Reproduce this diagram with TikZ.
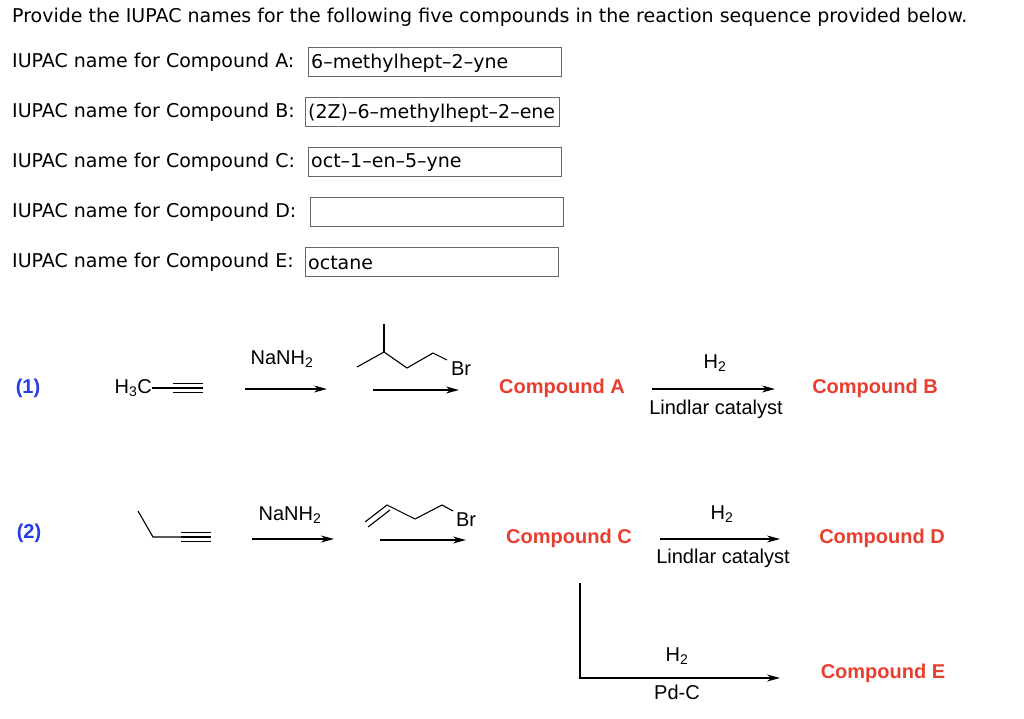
\documentclass[tikz,border=0pt]{standalone}
\usepackage{fontspec}
\setmainfont{DejaVu Sans}
\newfontfamily\hv{Liberation Sans}
\usetikzlibrary{arrows.meta}
\definecolor{cred}{RGB}{232,62,48}
\definecolor{cblue}{RGB}{40,60,230}
\begin{document}
\begin{tikzpicture}[x=1pt,y=-1pt,
  q/.style={anchor=west,inner sep=0pt,font=\fontsize{19}{22}\selectfont},
  ansbox/.style={draw=black!60,line width=1pt},
  ans/.style={anchor=west,inner sep=0pt,font=\fontsize{19}{22}\selectfont},
  lab/.style={inner sep=0pt,font=\hv\fontsize{20}{24}\selectfont},
  cmp/.style={inner sep=0pt,text=cred,font=\hv\bfseries\fontsize{20}{24}\selectfont},
  num/.style={inner sep=0pt,text=cblue,font=\hv\bfseries\fontsize{20}{24}\selectfont},
  rx/.style={-{Stealth[length=13pt,width=7pt]},line width=1.2pt},
  bond/.style={line width=1.1pt}]
\useasboundingbox[fill=white] (0,0) rectangle (1024,719);
\node[q] (hd) at (12,17) {Provide the IUPAC names for the following five compounds in the reaction sequence provided below.};
\foreach \L/\y/\bx/\ex/\t in {A/62/308/561/6–methylhept–2–yne,B/112/305/559/(2Z)–6–methylhept–2–ene,C/162/308/561/oct–1–en–5–yne,D/212/310/563/{},E/262/305/558/octane}{
  \node[q] (q\L) at (12,\y) {IUPAC name for Compound \L:};
  \draw[ansbox] (\bx,\y-14.5) rectangle (\ex,\y+14.5);
  \node[ans] (a\L) at (\bx+3,\y+1) {\t};
}
% reaction 1
\node[num] (n1) at (28,388) {(1)};
\node[lab,anchor=east] (h3c) at (152,388) {H\textsubscript{3}C};
\draw[bond] (h3c.east) -- (173,388);
\foreach \dy in {-4.5,0,4.5} \draw[bond] (173,388+\dy) -- (203,388+\dy);
\node[lab] (na1) at (282,359) {NaNH\textsubscript{2}};
\coordinate (r1a) at (245,389); \coordinate (r1b) at (327,389);
\draw[rx] (r1a) -- (r1b);
\draw[bond] (357,367) -- (384,352) -- (407,368) -- (433,353) -- (447,360);
\draw[bond] (384,352) -- (384,324);
\node[lab] (br1) at (461,369) {Br};
\coordinate (r2a) at (373,390); \coordinate (r2b) at (459,390);
\draw[rx] (r2a) -- (r2b);
\node[cmp] (cA) at (562,388) {Compound A};
\node[cmp] (cB) at (875,388) {Compound B};
\draw[rx] (652,389) -- (775,389);
\node[lab] (h21) at (715,363) {H\textsubscript{2}};
\node[lab] (lin1) at (716,409) {Lindlar catalyst};
% reaction 2
\node[num] (n2) at (29,533) {(2)};
\draw[bond] (138,511) -- (153,537) -- (181,537);
\foreach \dy in {-4.5,0,4.5} \draw[bond] (181,537+\dy) -- (211,537+\dy);
\node[lab] (na2) at (290,515) {NaNH\textsubscript{2}};
\draw[rx] (252,539) -- (334,539);
\draw[bond] (365,522) -- (387,505) -- (415,519) -- (442,505) -- (453,511);
\draw[bond] (368,527) -- (390,510);
\node[lab] (br2) at (466,520) {Br};
\draw[rx] (380,540) -- (466,540);
\node[cmp] (cC) at (569,538) {Compound C};
\node[cmp] (cD) at (882,538) {Compound D};
\draw[rx] (660,539) -- (780,539);
\node[lab] (h22) at (722,514) {H\textsubscript{2}};
\node[lab] (lin2) at (723,558) {Lindlar catalyst};
\draw[rx] (580,583) -- (580,678) -- (780,678);
\node[lab] (h23) at (677,656) {H\textsubscript{2}};
\node[lab] (pdc) at (677,692) {Pd-C};
\node[cmp] (cE) at (883,673) {Compound E};
\end{tikzpicture}
\end{document}
